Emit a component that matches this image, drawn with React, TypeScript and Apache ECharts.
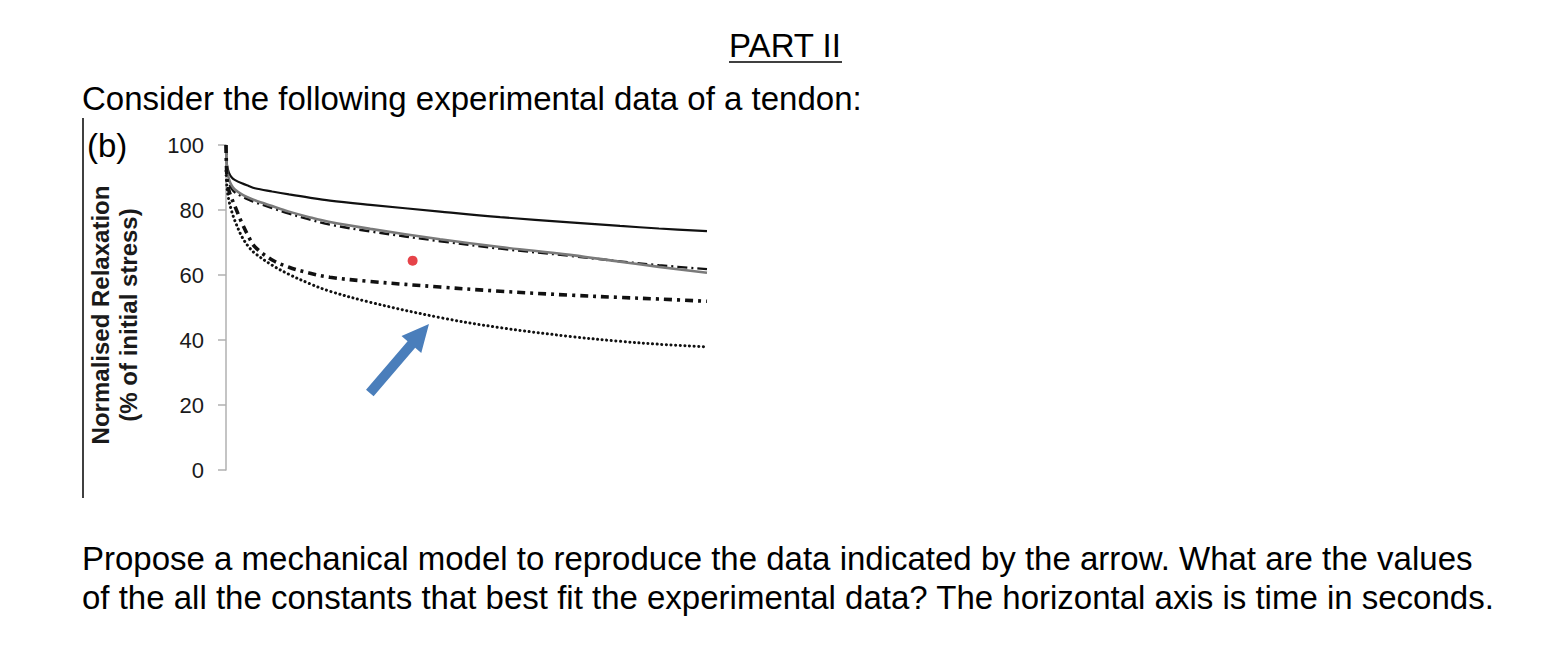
import { useEffect, useRef } from "react";
import * as echarts from "echarts";

// time axis (arbitrary seconds scale, the axis itself is not labelled)
const TIME = [0, 0.2, 0.6, 1.2, 1.9, 3.3, 4.7, 6, 9.6, 13.1, 17.3, 21.6, 30, 44.5, 57, 71.5, 81.9, 90, 100];

const SOLID_BLACK = [100, 94, 91.5, 90, 89.2, 88.2, 87.4, 86.7, 85.7, 84.8, 83.8, 82.9, 81.6, 79.5, 77.8, 76.2, 75.1, 74.3, 73.5];
const SOLID_GREY = [100, 93, 89.5, 87.5, 86.2, 84.8, 83.8, 83, 81.2, 79.5, 77.8, 76.3, 74.2, 71.0, 68.6, 66.2, 64.1, 62.5, 60.7];
const DASH_DOT_THIN = [100, 92, 88.5, 86.5, 85.4, 84.2, 83.2, 82.4, 80.6, 78.9, 77.1, 75.5, 73.4, 70.4, 68.1, 65.9, 64.2, 63.0, 61.8];
const DASH_DOT_BOLD = [100, 90, 86, 83.5, 81, 76, 71.8, 68.7, 64.6, 62.4, 60.6, 59.3, 58, 56.3, 55, 53.8, 53.1, 52.6, 51.9];
const DOTTED = [92, 87, 83, 79.5, 76.5, 71.8, 68.7, 66.7, 63, 60.2, 57.4, 55, 51.6, 46.9, 43.8, 41.1, 39.6, 38.7, 37.9];

const RED_POINT = [38.8, 64.4];
// arrow annotation, in data coordinates: tail then tip
const ARROW_TAIL = [29.9, 23.7];
const ARROW_TIP = [42.2, 44.9];

const Y_TICKS = [0, 20, 40, 60, 80, 100];

const FONT = "'Liberation Sans', Arial, Helvetica, sans-serif";

const zip = (ys: number[]) => TIME.map((t, i) => [t, ys[i]]);

function arrowPoints(tail: number[], tip: number[]) {
  const dx = tip[0] - tail[0];
  const dy = tip[1] - tail[1];
  const len = Math.sqrt(dx * dx + dy * dy);
  const ux = dx / len;
  const uy = dy / len;
  const nx = -uy;
  const ny = ux;
  const headLen = 27;
  const headHalf = 13;
  const shaftHalf = 5;
  const bx = tip[0] - ux * headLen;
  const by = tip[1] - uy * headLen;
  return [
    [tail[0] + nx * shaftHalf, tail[1] + ny * shaftHalf],
    [bx + nx * shaftHalf, by + ny * shaftHalf],
    [bx + nx * headHalf, by + ny * headHalf],
    [tip[0], tip[1]],
    [bx - nx * headHalf, by - ny * headHalf],
    [bx - nx * shaftHalf, by - ny * shaftHalf],
    [tail[0] - nx * shaftHalf, tail[1] - ny * shaftHalf],
  ];
}

export default function App() {
  const ref = useRef<HTMLDivElement | null>(null);

  useEffect(() => {
    const el = ref.current;
    if (!el) return;
    const chart = echarts.init(el, null, { renderer: "svg" });

    const text = (id: string, x: number, y: number, str: string, extra = {}) => ({
      type: "text",
      id,
      x,
      y,
      style: {
        text: str,
        fontFamily: FONT,
        fontSize: 33,
        fill: "#000",
        textVerticalAlign: "middle",
        ...extra,
      },
    });

    const curve = (data: number[], lineStyle: object, z = 3) => ({
      type: "line",
      data: zip(data),
      showSymbol: false,
      smooth: 0.35,
      lineStyle,
      z,
    });

    chart.setOption({
      animation: false,
      backgroundColor: "#fff",
      grid: { left: 226, top: 145, width: 481, height: 325 },
      xAxis: { type: "value", min: 0, max: 100, show: false },
      yAxis: {
        type: "value",
        min: 0,
        max: 100,
        interval: 20,
        splitLine: { show: false },
        axisLine: { show: true, lineStyle: { color: "#b0b0b0", width: 1.5 } },
        axisTick: { show: true, length: 8, lineStyle: { color: "#b0b0b0", width: 1.5 } },
        axisLabel: {
          margin: 22,
          color: "#1a1a1a",
          fontSize: 22,
          fontFamily: FONT,
          formatter: (v: number) => (Y_TICKS.includes(v) ? String(v) : ""),
        },
        name: "Normalised Relaxation\n(% of initial stress)",
        nameLocation: "middle",
        nameGap: 84,
        nameTextStyle: {
          fontFamily: FONT,
          fontSize: 24,
          fontWeight: "bold",
          color: "#1a1a1a",
          lineHeight: 28,
          padding: [0, 15, 0, 0],
        },
      },
      series: [
        curve(SOLID_BLACK, { color: "#111", width: 2.2 }),
        curve(DASH_DOT_THIN, { color: "#111", width: 2.4, type: [10, 4, 2, 4] }, 2),
        curve(SOLID_GREY, { color: "#7a7a7a", width: 2.6 }),
        curve(DASH_DOT_BOLD, { color: "#111", width: 3.6, type: [8, 5, 3, 5] }),
        curve(DOTTED, { color: "#111", width: 3, type: [0.1, 4.5], cap: "round" }),
        {
          type: "scatter",
          data: [RED_POINT],
          symbolSize: 10,
          itemStyle: { color: "#e0141c" },
          z: 4,
        },
      ],
      graphic: [
        text("part", 785, 45, "PART II", { textAlign: "center" }),
        {
          type: "line",
          id: "partLine",
          shape: { x1: 729, y1: 62, x2: 842, y2: 62 },
          style: { stroke: "#000", lineWidth: 1.5 },
        },
        text("intro", 82, 98, "Consider the following experimental data of a tendon:"),
        {
          type: "line",
          id: "frame",
          shape: { x1: 83, y1: 118, x2: 83, y2: 498 },
          style: { stroke: "#000", lineWidth: 1.5 },
        },
        text("panel", 87, 145, "(b)"),
        text(
          "q1",
          82,
          558,
          "Propose a mechanical model to reproduce the data indicated by the arrow. What are the values"
        ),
        text(
          "q2",
          82,
          597,
          "of the all the constants that best fit the experimental data? The horizontal axis is time in seconds."
        ),
      ],
    });

    const tail = chart.convertToPixel({ gridIndex: 0 }, ARROW_TAIL) as number[];
    const tip = chart.convertToPixel({ gridIndex: 0 }, ARROW_TIP) as number[];
    chart.setOption({
      graphic: [
        {
          type: "polygon",
          id: "arrow",
          shape: { points: arrowPoints(tail, tip) },
          style: { fill: "#4a7ebb" },
          z: 10,
        },
      ],
    });

    return () => chart.dispose();
  }, []);

  return (
    <div
      ref={ref}
      style={{ position: "fixed", left: 0, top: 0, width: 1550, height: 658 }}
    />
  );
}
